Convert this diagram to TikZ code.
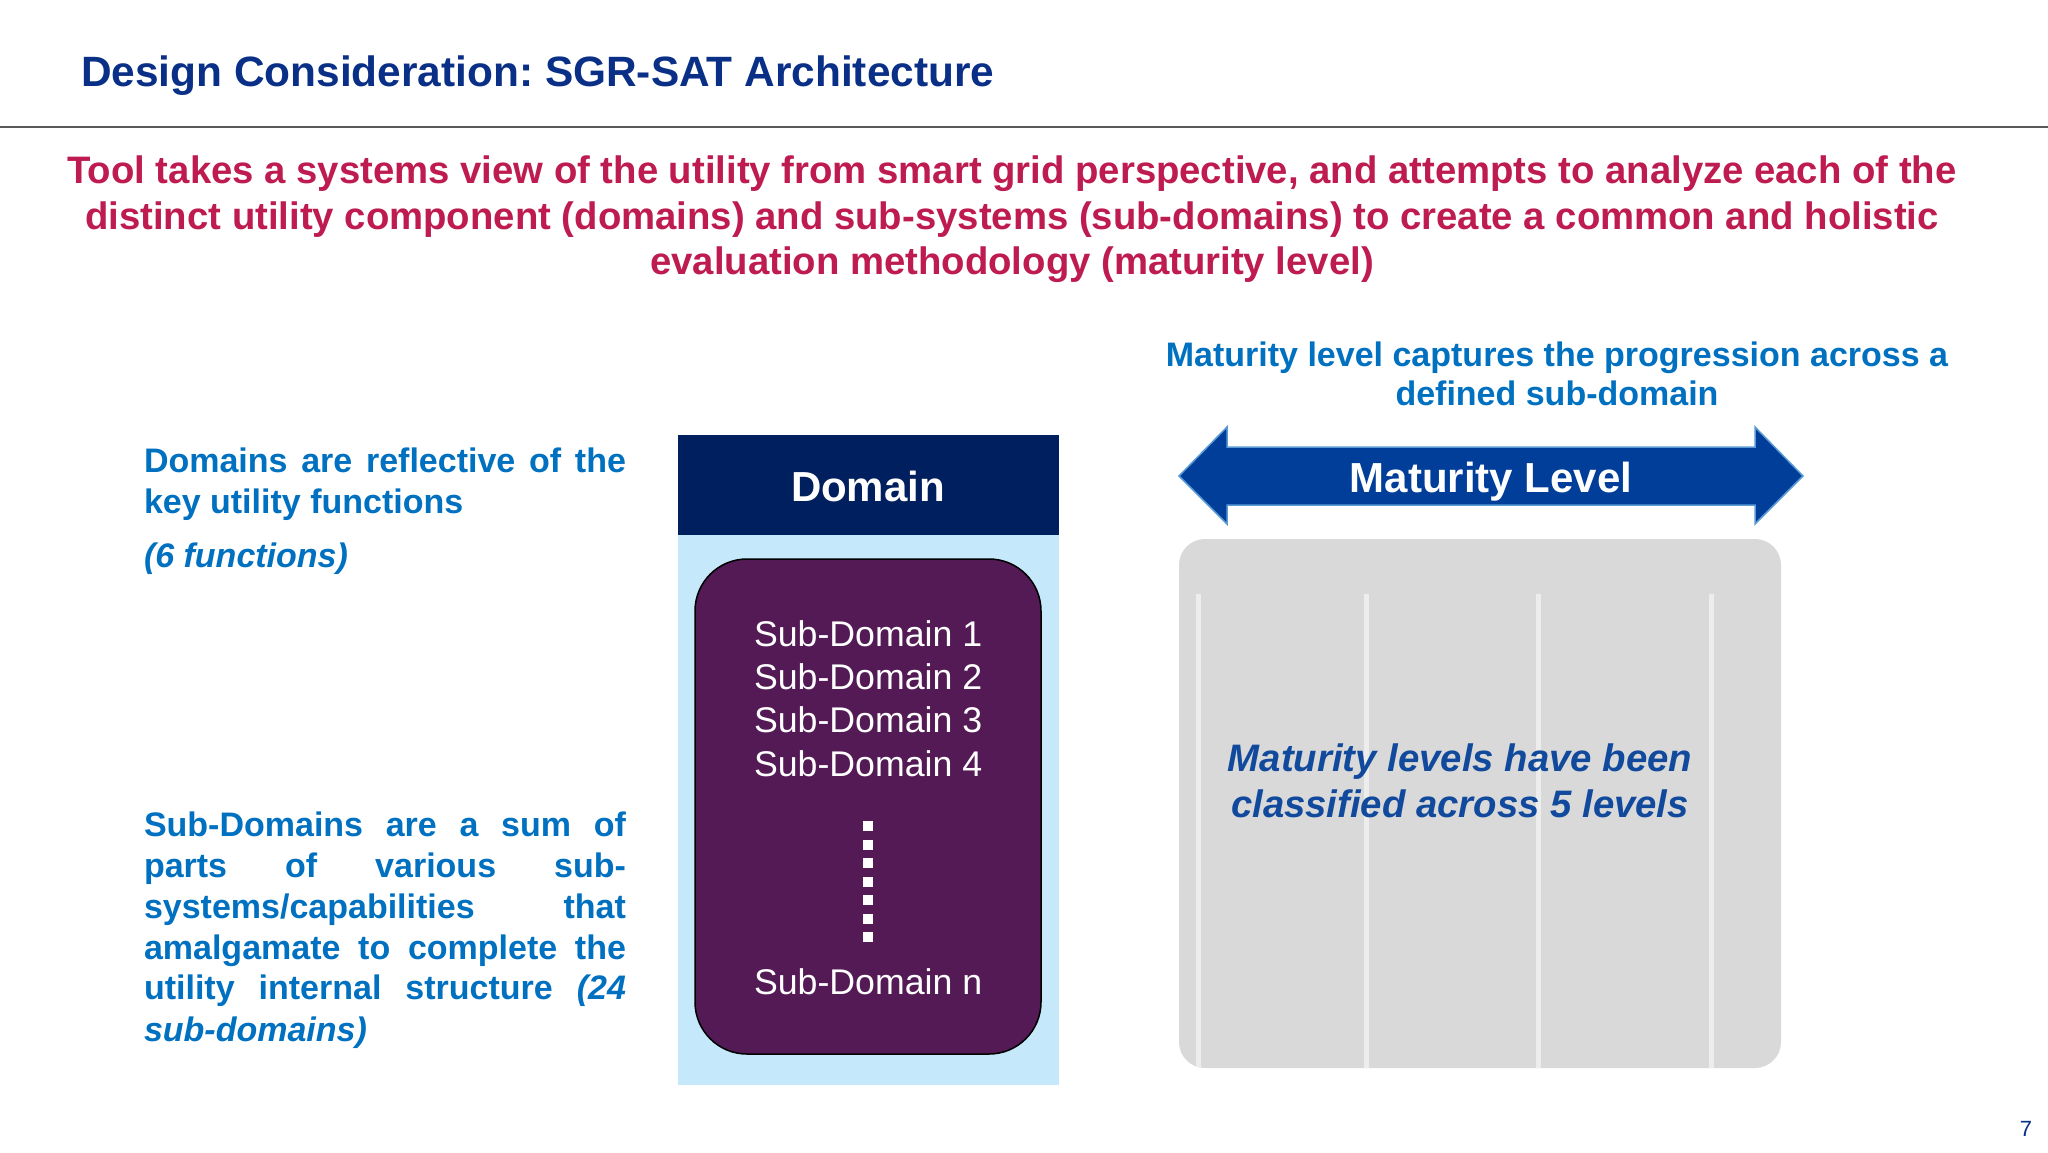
\documentclass[tikz,border=0pt]{standalone}
\usepackage{fontspec}
\setmainfont{Liberation Sans}
\frenchspacing
\definecolor{titleblue}{HTML}{0A2F87}
\definecolor{introred}{HTML}{BE1B50}
\definecolor{noteblue}{HTML}{0070C0}
\definecolor{headnavy}{HTML}{001F5F}
\definecolor{domainbg}{HTML}{C5E8FA}
\definecolor{subpurple}{HTML}{541A55}
\definecolor{arrowblue}{HTML}{013E9A}
\definecolor{arrowedge}{HTML}{5B9BD5}
\definecolor{levelgray}{HTML}{D9D9D9}
\definecolor{levelline}{HTML}{EDEDED}
\definecolor{levelblue}{HTML}{114A9C}
\tikzset{
  txt/.style={inner sep=0pt, outer sep=0pt},
  introtxt/.style={txt, anchor=base, text=introred, font=\fontsize{38.3bp}{46bp}\selectfont\bfseries},
  notetxt/.style={txt, anchor=base west, text=noteblue, font=\fontsize{34bp}{40.5bp}\selectfont\bfseries},
  captxt/.style={txt, anchor=base, text=noteblue, font=\fontsize{34bp}{40.5bp}\selectfont\bfseries},
  subtxt/.style={txt, anchor=base west, text=white, font=\fontsize{35.7bp}{43bp}\selectfont},
  leveltxt/.style={txt, anchor=base, text=levelblue, font=\fontsize{38.3bp}{46bp}\selectfont\bfseries\itshape},
  headtxt/.style={txt, anchor=base, text=white, font=\fontsize{42bp}{50bp}\selectfont\bfseries},
}
\newcommand{\jline}[1]{\makebox[482bp][s]{#1}}
\begin{document}
\begin{tikzpicture}[x=1bp,y=-1bp]
\useasboundingbox (0,0) rectangle (2048,1152);
\fill[white] (0,0) rectangle (2048,1152);

% title and rule
\node[txt, anchor=base west, text=titleblue, font=\fontsize{42.4bp}{50bp}\selectfont\bfseries] (title) at (81,86) {Design Consideration: SGR-SAT Architecture};
\draw[line width=2bp, black!65] (0,126.5) -- (2048,126.5);

% intro
\node[introtxt] (intro1) at (1012,183.5) {Tool takes a systems view of the utility from smart grid perspective, and attempts to analyze each of the};
\node[introtxt] (intro2) at (1012,229) {distinct utility component (domains) and sub-systems (sub-domains) to create a common and holistic};
\node[introtxt] (intro3) at (1012,274.5) {evaluation methodology (maturity level)};

% left notes
\node[notetxt] (dom1) at (144,472) {\jline{Domains are reflective of the}};
\node[notetxt] (dom2) at (144,513) {key utility functions};
\node[notetxt, font=\fontsize{34bp}{40.5bp}\selectfont\bfseries\itshape] (dom3) at (144,567) {(6 functions)};

\node[notetxt] (sd1) at (144,836) {\jline{Sub-Domains are a sum of}};
\node[notetxt] (sd2) at (144,877) {\jline{parts of various sub-}};
\node[notetxt] (sd3) at (144,918) {\jline{systems/capabilities that}};
\node[notetxt] (sd4) at (144,959) {\jline{amalgamate to complete the}};
\node[notetxt] (sd5) at (144,999) {\jline{utility internal structure \textit{(24}}};
\node[notetxt, font=\fontsize{34bp}{40.5bp}\selectfont\bfseries\itshape] (sd6) at (144,1041) {sub-domains)};

% domain column
\fill[domainbg] (678,535) rectangle (1059,1085);
\fill[headnavy] (678,435) rectangle (1059,535);
\node[headtxt] (domain) at (868,501) {Domain};
\draw[black, line width=1.5bp, fill=subpurple, rounded corners=52bp] (695,559) rectangle (1041,1054);
\node[subtxt] (s1) at (754,646.5) {Sub-Domain 1};
\node[subtxt] (s2) at (754,689.5) {Sub-Domain 2};
\node[subtxt] (s3) at (754,732.5) {Sub-Domain 3};
\node[subtxt] (s4) at (754,776.5) {Sub-Domain 4};
\node[subtxt] (sn) at (754,994) {Sub-Domain n};
\foreach \k in {0,...,6} {
  \fill[white] (863,{821+\k*18.5}) rectangle (873,{831+\k*18.5});
}

% maturity caption
\node[captxt] (cap1) at (1557,366) {Maturity level captures the progression across a};
\node[captxt] (cap2) at (1557,405) {defined sub-domain};

% double arrow
\draw[arrowedge, line width=1.5bp, fill=arrowblue]
  (1179,476) -- (1227,427) -- (1227,447) -- (1755,447) -- (1755,427) -- (1803,476)
  -- (1755,524) -- (1755,505) -- (1227,505) -- (1227,524) -- cycle;
\node[headtxt] (mlevel) at (1491,492) {Maturity Level};

% levels box
\fill[levelgray, rounded corners=26bp] (1179,539) rectangle (1781,1068);
\begin{scope}
  \clip[rounded corners=26bp] (1179,539) rectangle (1781,1068);
  \foreach \xx in {1198,1366,1538,1711} {
    \draw[levelline, line width=5bp] (\xx,594) -- (\xx,1070);
  }
\end{scope}
\node[leveltxt] (lv1) at (1460,771.5) {Maturity levels have been};
\node[leveltxt] (lv2) at (1460,817.5) {classified across 5 levels};

% page number
\node[txt, anchor=base, text=titleblue, font=\fontsize{22bp}{26bp}\selectfont] (page) at (2026,1136) {7};
\end{tikzpicture}
\end{document}
